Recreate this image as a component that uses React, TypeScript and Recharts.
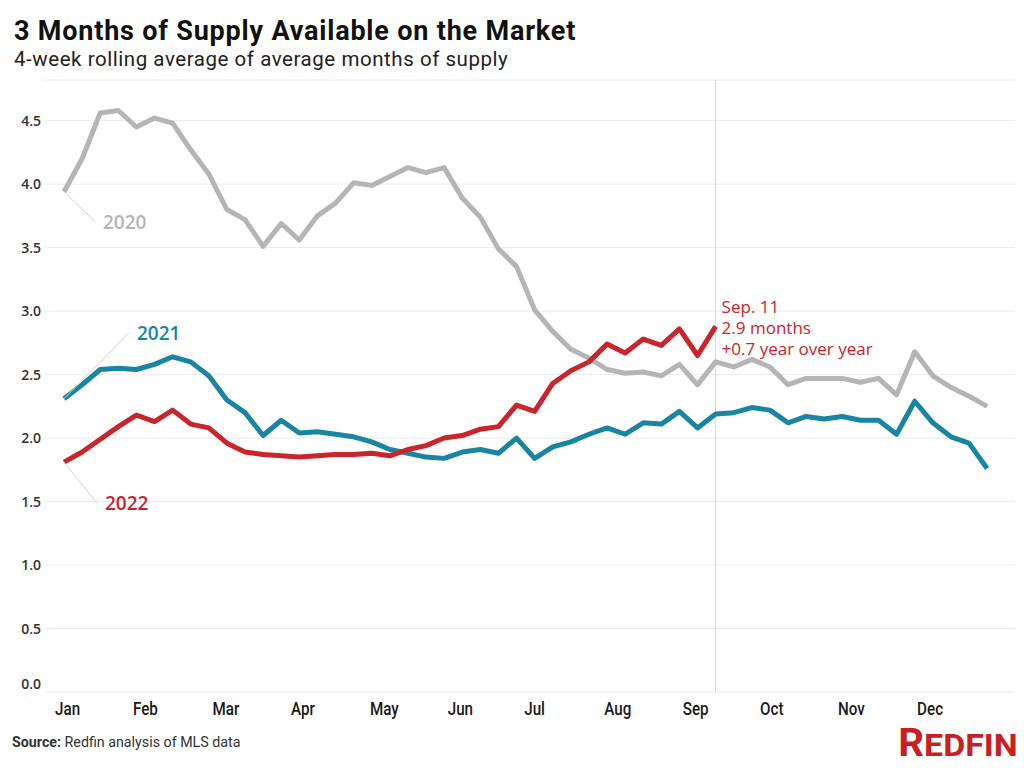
import React from "react";
import { LineChart, Line, XAxis, YAxis, CartesianGrid, ReferenceLine } from "recharts";

// weekly 4-week rolling average of months of supply
const supply2020 = [
  3.94, 4.2, 4.56, 4.58, 4.45, 4.52, 4.48, 4.27, 4.08, 3.8, 3.72, 3.51, 3.69,
  3.56, 3.75, 3.85, 4.01, 3.99, 4.06, 4.13, 4.09, 4.13, 3.89, 3.74, 3.49, 3.35,
  3.01, 2.84, 2.7, 2.63, 2.54, 2.51, 2.52, 2.49, 2.58, 2.42, 2.6, 2.56, 2.62,
  2.56, 2.42, 2.47, 2.47, 2.47, 2.44, 2.47, 2.34, 2.68, 2.49, 2.4, 2.33, 2.25,
];
const supply2021 = [
  2.31, 2.42, 2.54, 2.55, 2.54, 2.58, 2.64, 2.6, 2.49, 2.3, 2.2, 2.02, 2.14,
  2.04, 2.05, 2.03, 2.01, 1.97, 1.91, 1.88, 1.85, 1.84, 1.89, 1.91, 1.88, 2.0,
  1.84, 1.93, 1.97, 2.03, 2.08, 2.03, 2.12, 2.11, 2.21, 2.08, 2.19, 2.2, 2.24,
  2.22, 2.12, 2.17, 2.15, 2.17, 2.14, 2.14, 2.03, 2.29, 2.12, 2.01, 1.96, 1.76,
];
const supply2022 = [
  1.81, 1.89, 1.99, 2.09, 2.18, 2.13, 2.22, 2.11, 2.08, 1.96, 1.89, 1.87, 1.86,
  1.85, 1.86, 1.87, 1.87, 1.88, 1.86, 1.91, 1.94, 2.0, 2.02, 2.07, 2.09, 2.26,
  2.21, 2.43, 2.53, 2.6, 2.74, 2.67, 2.78, 2.73, 2.86, 2.65, 2.88,
];

const monthLabels = ["Jan", "Feb", "Mar", "Apr", "May", "Jun", "Jul", "Aug", "Sep", "Oct", "Nov", "Dec"];
// month starts, in weeks from the first reading
const monthTicks = [0.2, 4.5, 8.95, 13.2, 17.7, 21.9, 26.0, 30.6, 34.9, 39.1, 43.5, 47.85];
const yTicks = [0, 0.5, 1, 1.5, 2, 2.5, 3, 3.5, 4, 4.5];

const latestLabel = "Sep. 11";
const latestYoY = "+0.7 year over year";

const GRAY = "#b5b5b5";
const TEAL = "#1a85a2";
const RED = "#c9252b";
const SANS = "'Open Sans', 'Noto Sans', sans-serif";
const HEAD = "Roboto, 'Open Sans', sans-serif";
const NARROW = "'Roboto', 'Liberation Sans', sans-serif";

const rows = supply2020.map((v, i) => ({
  week: i,
  y2020: v,
  y2021: supply2021[i],
  y2022: i < supply2022.length ? supply2022[i] : null,
}));

// year tag with a thin leader line, drawn off the first point of a series
const yearTag = (text: string, color: string, dx: number, dy: number) => (props: any) => {
  const { cx, cy, index } = props;
  if (index !== 0) return <g key={`d-${index}`} />;
  return (
    <g key={`tag-${text}`}>
      <line x1={cx} y1={cy} x2={cx + dx} y2={cy + dy} stroke="#d4d4d4" strokeWidth={1} />
      <text
        x={cx + dx + 8}
        y={cy + dy}
        dy="0.36em"
        fill={color}
        fontSize={19}
        fontWeight={600}
        fontFamily={SANS}
      >
        {text}
      </text>
    </g>
  );
};

const latestNote = (props: any) => {
  const { cx, cy, index, value } = props;
  if (index !== supply2022.length - 1) return <g key={`n-${index}`} />;
  return (
    <g key="latest" fill={RED} fontSize={17} fontFamily={SANS}>
      <text x={cx + 6} y={cy - 19.5} dy="0.36em">{latestLabel}</text>
      <text x={cx + 6} y={cy + 1.5} dy="0.36em">{`${value.toFixed(1)} months`}</text>
      <text x={cx + 6} y={cy + 22.5} dy="0.36em">{latestYoY}</text>
    </g>
  );
};

const YTick = (props: any) => {
  const { x, y, payload } = props;
  return (
    <text
      x={x + 4}
      y={payload.value === 0 ? y - 8 : y}
      dy="0.36em"
      textAnchor="end"
      fill="#333"
      fontSize={14}
      fontWeight={600}
      fontFamily={SANS}
    >
      {payload.value.toFixed(1)}
    </text>
  );
};

// condensed month names under the axis
const XTick = (props: any) => {
  const { x, y, payload } = props;
  const i = monthTicks.indexOf(payload.value);
  return (
    <text
      transform={`translate(${x},${y + 8}) scale(0.8,1)`}
      dy="0.36em"
      textAnchor="middle"
      fill="#1a1a1a"
      fontSize={19}
      fontWeight={500}
      fontFamily={NARROW}
    >
      {monthLabels[i]}
    </text>
  );
};

export default function App() {
  return (
    <div
      style={{
        position: "absolute",
        left: 0,
        top: 0,
        width: 1024,
        height: 768,
        background: "#fff",
        overflow: "hidden",
      }}
    >
      <div
        style={{
          position: "absolute",
          left: 14,
          top: 17,
          fontFamily: HEAD,
          fontSize: 27,
          fontWeight: 700,
          letterSpacing: 0.8,
          lineHeight: "29px",
          color: "#111",
          whiteSpace: "nowrap",
        }}
      >
        3 Months of Supply Available on the Market
      </div>
      <div
        style={{
          position: "absolute",
          left: 14,
          top: 47,
          fontFamily: HEAD,
          fontSize: 20.5,
          letterSpacing: 0.55,
          lineHeight: "24px",
          color: "#222",
          whiteSpace: "nowrap",
        }}
      >
        4-week rolling average of average months of supply
      </div>

      <div style={{ position: "absolute", left: 0, top: 0 }}>
        <LineChart
          width={1024}
          height={768}
          data={rows}
          margin={{ top: 80, right: 9, left: 5, bottom: 46 }}
        >
          <CartesianGrid vertical={false} stroke="#ececec" />
          <XAxis
            dataKey="week"
            type="number"
            domain={[-1.05, 52.54]}
            ticks={monthTicks}
            tick={<XTick />}
            tickLine={false}
            axisLine={false}
            height={30}
            interval={0}
          />
          <YAxis
            domain={[0, 4.82]}
            ticks={yTicks}
            tick={<YTick />}
            tickLine={false}
            axisLine={false}
            width={40}
            interval={0}
          />
          <ReferenceLine x={supply2022.length - 1} stroke="#dcdcdc" strokeWidth={1} />
          <Line
            dataKey="y2020"
            stroke={GRAY}
            strokeWidth={5}
            strokeLinejoin="round"
            dot={yearTag("2020", GRAY, 31, 30)}
            activeDot={false}
            isAnimationActive={false}
          />
          <Line
            dataKey="y2021"
            stroke={TEAL}
            strokeWidth={5}
            strokeLinejoin="round"
            dot={yearTag("2021", TEAL, 65, -66)}
            activeDot={false}
            isAnimationActive={false}
          />
          <Line
            dataKey="y2022"
            stroke={RED}
            strokeWidth={5}
            strokeLinejoin="round"
            dot={(p: any) =>
              p.index === 0 ? yearTag("2022", RED, 33, 41)(p) : latestNote(p)
            }
            activeDot={false}
            connectNulls={false}
            isAnimationActive={false}
          />
        </LineChart>
      </div>

      <div
        style={{
          position: "absolute",
          left: 12,
          top: 733,
          fontFamily: NARROW,
          fontSize: 15,
          color: "#333",
          whiteSpace: "nowrap",
          transform: "scaleX(0.95)",
          transformOrigin: "left center",
        }}
      >
        <b>Source:</b> Redfin analysis of MLS data
      </div>
      <div
        style={{
          position: "absolute",
          right: 6,
          top: 724,
          fontFamily: NARROW,
          fontWeight: 700,
          color: "#c82021",
          whiteSpace: "nowrap",
          lineHeight: 1,
          transform: "scaleX(1.06)",
          transformOrigin: "right center",
        }}
      >
        <span style={{ fontSize: 38 }}>R</span>
        <span style={{ fontSize: 32 }}>EDFIN</span>
      </div>
    </div>
  );
}
